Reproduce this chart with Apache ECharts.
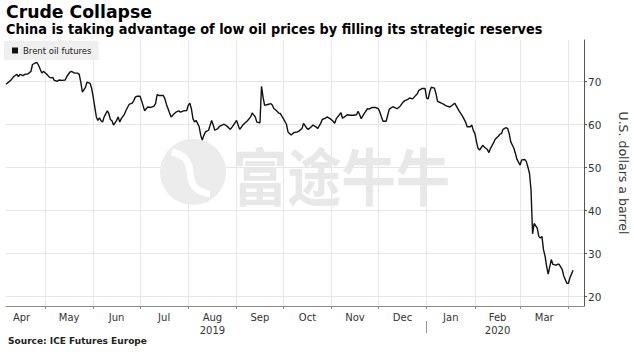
<!DOCTYPE html>
<html><head><meta charset="utf-8">
<script src="https://cdn.jsdelivr.net/npm/echarts@6/dist/echarts.min.js"></script>
<style>html,body{margin:0;padding:0;background:#fff}#c{width:634px;height:352px}</style>
</head><body><div id="c"></div>
<script>
// ---------- DATA ----------
const seriesName = 'Brent oil futures';
const dates = [
'2019-04-06','2019-04-09','2019-04-11','2019-04-13','2019-04-14','2019-04-15','2019-04-17','2019-04-18','2019-04-20','2019-04-22','2019-04-23','2019-04-25','2019-04-26','2019-04-27','2019-04-29','2019-04-30',
'2019-05-02','2019-05-04','2019-05-05','2019-05-06','2019-05-07','2019-05-09','2019-05-10','2019-05-12','2019-05-14','2019-05-15','2019-05-17','2019-05-18','2019-05-20','2019-05-22','2019-05-23','2019-05-24','2019-05-25','2019-05-27','2019-05-28','2019-05-30','2019-05-31',
'2019-06-01','2019-06-02','2019-06-03','2019-06-04','2019-06-05','2019-06-06','2019-06-07','2019-06-08','2019-06-10','2019-06-11','2019-06-12','2019-06-13','2019-06-14','2019-06-16','2019-06-17','2019-06-18','2019-06-19','2019-06-21','2019-06-22','2019-06-24','2019-06-26','2019-06-27','2019-06-28','2019-06-29',
'2019-07-01','2019-07-02','2019-07-04','2019-07-05','2019-07-06','2019-07-08','2019-07-10','2019-07-11','2019-07-12','2019-07-13','2019-07-16','2019-07-17','2019-07-18','2019-07-20','2019-07-21','2019-07-22','2019-07-24','2019-07-26','2019-07-27','2019-07-29','2019-07-31',
'2019-08-01','2019-08-02','2019-08-03','2019-08-04','2019-08-05','2019-08-06','2019-08-08','2019-08-09','2019-08-10','2019-08-11','2019-08-12','2019-08-14','2019-08-16','2019-08-17','2019-08-18','2019-08-20','2019-08-21','2019-08-24','2019-08-26','2019-08-28','2019-08-30',
'2019-09-01','2019-09-02','2019-09-03','2019-09-05','2019-09-08','2019-09-10','2019-09-11','2019-09-13','2019-09-14','2019-09-16','2019-09-17','2019-09-18','2019-09-19','2019-09-21','2019-09-23','2019-09-24','2019-09-25','2019-09-26','2019-09-28','2019-09-29',
'2019-10-01','2019-10-03','2019-10-04','2019-10-06','2019-10-08','2019-10-10','2019-10-11','2019-10-13','2019-10-14','2019-10-16','2019-10-17','2019-10-19','2019-10-20','2019-10-22','2019-10-23','2019-10-25','2019-10-26','2019-10-28','2019-10-29','2019-10-31',
'2019-11-02','2019-11-03','2019-11-04','2019-11-06','2019-11-07','2019-11-08','2019-11-10','2019-11-11','2019-11-13','2019-11-15','2019-11-17','2019-11-18','2019-11-19','2019-11-20','2019-11-22','2019-11-24','2019-11-25','2019-11-27','2019-11-29',
'2019-12-01','2019-12-02','2019-12-03','2019-12-04','2019-12-06','2019-12-07','2019-12-08','2019-12-10','2019-12-11','2019-12-13','2019-12-15','2019-12-17','2019-12-18','2019-12-20','2019-12-21','2019-12-23','2019-12-24','2019-12-26','2019-12-27','2019-12-29','2019-12-31',
'2020-01-01','2020-01-02','2020-01-03','2020-01-04','2020-01-06','2020-01-07','2020-01-08','2020-01-10','2020-01-12','2020-01-13','2020-01-14','2020-01-16','2020-01-19','2020-01-22','2020-01-24','2020-01-26','2020-01-27','2020-01-29','2020-01-30','2020-01-31',
'2020-02-01','2020-02-02','2020-02-03','2020-02-04','2020-02-06','2020-02-07','2020-02-09','2020-02-10','2020-02-11','2020-02-13','2020-02-14','2020-02-16','2020-02-17','2020-02-18','2020-02-19','2020-02-21','2020-02-22','2020-02-23','2020-02-24','2020-02-26','2020-02-27','2020-02-28',
'2020-03-01','2020-03-02','2020-03-04','2020-03-05','2020-03-06','2020-03-07','2020-03-08','2020-03-09','2020-03-10','2020-03-12','2020-03-13','2020-03-14','2020-03-15','2020-03-16','2020-03-17','2020-03-18','2020-03-19','2020-03-21','2020-03-22','2020-03-24','2020-03-25','2020-03-26','2020-03-28','2020-03-29','2020-03-31','2020-04-01','2020-04-02','2020-04-04'
];
const prices = [
69.4,70.3,71.2,71.7,71.2,71.7,71.4,71.7,71.8,72.4,74.0,74.4,74.4,73.7,72.0,72.4,
71.8,71.0,70.9,71.0,70.3,70.1,70.4,70.3,70.4,71.2,72.2,72.4,72.0,72.0,71.7,69.9,67.6,68.7,69.9,69.6,68.4,
66.4,64.1,61.8,61.0,61.6,60.9,60.6,61.8,63.2,62.6,61.2,60.9,59.9,61.0,61.8,60.6,61.4,62.4,63.3,64.7,65.0,65.6,66.4,66.6,
66.6,65.6,63.2,63.7,64.1,64.0,64.3,64.9,67.0,66.8,66.8,66.0,64.7,62.7,61.8,62.2,62.9,63.2,62.9,63.2,63.3,
64.5,65.0,63.7,61.4,60.6,61.0,59.5,57.5,56.4,57.5,58.3,58.7,61.0,59.9,58.7,59.1,59.6,60.1,59.6,58.9,59.9,
61.0,59.9,58.9,59.9,60.9,61.8,62.7,61.8,60.6,60.4,68.9,66.4,64.5,64.7,64.9,64.5,63.7,63.5,62.7,62.6,
61.4,60.1,58.3,57.6,58.2,58.3,58.5,59.1,60.3,59.2,58.9,59.5,59.9,59.5,59.1,60.3,61.2,61.5,61.8,61.4,
60.8,60.3,61.4,62.3,62.8,61.5,62.0,62.3,62.2,62.2,62.3,63.1,62.3,61.4,62.6,63.7,63.6,64.0,64.0,
63.7,62.9,61.8,60.8,60.8,62.2,63.6,64.1,64.1,63.7,64.3,65.3,65.6,65.9,66.2,66.0,66.4,67.2,68.0,68.4,68.4,
66.2,66.0,67.7,68.7,68.5,67.2,65.4,65.1,64.7,64.5,64.3,64.1,65.0,63.1,62.0,60.6,59.5,59.5,59.9,58.6,
57.9,56.0,54.5,54.1,55.2,54.8,54.2,53.5,54.5,55.8,56.6,57.3,57.8,57.9,58.9,59.3,59.1,57.9,56.0,54.5,53.3,51.9,
50.6,51.8,51.9,51.4,50.1,48.7,44.8,34.6,37.0,35.9,34.0,33.6,34.0,30.9,29.4,27.1,25.2,28.6,27.5,27.3,27.5,27.5,26.3,24.8,23.1,23.1,24.4,26.1
];
const monthStarts = ['2019-04-01','2019-05-01','2019-06-01','2019-07-01','2019-08-01','2019-09-01','2019-10-01','2019-11-01','2019-12-01','2020-01-01','2020-02-01','2020-03-01','2020-04-01'];
const monthLabels = ['Apr','May','Jun','Jul','Aug','Sep','Oct','Nov','Dec','Jan','Feb','Mar'];
const yearLabels  = ['','','','','2019','','','','','','2020',''];
const yearBoundary = '2020-01-01';
const yTicks = [20,30,40,50,60,70];
const axisRange = {xMin:'2019-04-06', xMax:'2020-04-11', yMin:17.8, yMax:79.7};
const titleText = 'Crude Collapse';
const subtitleText = 'China is taking advantage of low oil prices by filling its strategic reserves';
const sourceText = 'Source: ICE Futures Europe';
const yAxisName = 'U.S. dollars a barrel';
const watermarkText = '富途牛牛';

// ---------- helpers ----------
function ts(s){ const p = s.split('-').map(Number); return Date.UTC(p[0], p[1]-1, p[2]); }
const xMin = ts(axisRange.xMin), xMax = ts(axisRange.xMax);
const tickVals = monthStarts.map(ts).filter(v => v >= xMin && v <= xMax);
const labelVals = monthLabels.map((m,i) => (ts(monthStarts[i]) + ts(monthStarts[i+1])) / 2);
const ctx = document.createElement('canvas').getContext('2d');
function fit(text, font, target){ ctx.font = font; return target / ctx.measureText(text).width; }

const F = '"DejaVu Sans", Verdana, sans-serif';
const titleFont = 'bold 18px ' + F;
const subFont = 'bold 13.5px ' + F;
const srcFont = 'bold 9.5px ' + F;
const wmFont = 'bold 62px "Noto Sans CJK SC"';

const chart = echarts.init(document.getElementById('c'), null, {renderer:'svg'});
chart.setOption({
  animation:false,
  backgroundColor:'#fff',
  grid:{left:6, right:50, top:40, bottom:46, containLabel:false, outerBoundsMode:'none'},
  legend:{
    data:[seriesName], left:4, top:41, icon:'rect', itemWidth:6, itemHeight:6,
    backgroundColor:'#efefef', padding:[5,7,5,8], selectedMode:false,
    textStyle:{fontFamily:F, fontSize:8.5, color:'#222'}
  },
  xAxis:[{
    type:'value', min:xMin, max:xMax, scale:true,
    axisLine:{show:true, onZero:false, lineStyle:{color:'#8c8c8c', width:1}},
    axisTick:{show:true, customValues:tickVals, length:3, lineStyle:{color:'#8c8c8c'}},
    splitLine:{show:true, lineStyle:{color:'#e6e6e6', width:1}},
    axisLabel:{
      customValues:labelVals, margin:5, fontFamily:F, fontSize:10, color:'#333', lineHeight:13,
      formatter:function(v){
        let best=0, bd=Infinity;
        labelVals.forEach((lv,i)=>{const d=Math.abs(lv-v); if(d<bd){bd=d;best=i;}});
        return monthLabels[best] + (yearLabels[best] ? '\n' + yearLabels[best] : '');
      }
    }
  },{
    type:'value', min:xMin, max:xMax, scale:true, position:'bottom', offset:15,
    axisLine:{show:false}, splitLine:{show:false}, axisLabel:{show:false},
    axisTick:{show:true, customValues:[ts(yearBoundary)], length:12, lineStyle:{color:'#9a9a9a'}}
  }],
  yAxis:{
    type:'value', position:'right', min:axisRange.yMin, max:axisRange.yMax,
    axisLine:{show:true, lineStyle:{color:'#555', width:1}},
    axisTick:{show:true, customValues:yTicks, length:3, lineStyle:{color:'#555'}},
    splitLine:{show:true, lineStyle:{color:'#e6e6e6', width:1}},
    axisLabel:{customValues:yTicks, margin:4, fontFamily:F, fontSize:10.5, color:'#333'},
    name:yAxisName, nameLocation:'middle', nameRotate:-90, nameGap:33,
    nameTextStyle:{fontFamily:F, fontSize:12.5, color:'#333'}
  },
  graphic:[
    {type:'text', x:6, y:11.5, scaleX:fit(titleText, titleFont, 146), z:10,
      style:{text:titleText, font:titleFont, fill:'#000', verticalAlign:'middle'}},
    {type:'text', x:6, y:29, scaleX:fit(subtitleText, subFont, 537), z:10,
      style:{text:subtitleText, font:subFont, fill:'#000', verticalAlign:'middle'}},
    {type:'text', x:8, y:340.5, scaleX:fit(sourceText, srcFont, 139), z:10,
      style:{text:sourceText, font:srcFont, fill:'#222', verticalAlign:'middle'}},
    {type:'circle', shape:{cx:193, cy:172, r:33}, z:1, silent:true, style:{fill:'#ececec'}},
    {type:'bezierCurve', z:1, silent:true,
      shape:{x1:172, y1:152, cpx1:205, cpy1:160, cpx2:175, cpy2:188, x2:210, y2:194},
      style:{stroke:'#ffffff', lineWidth:7, fill:null}},
    {type:'text', x:233, y:174, scaleX:fit(watermarkText, wmFont, 217), z:1, silent:true,
      style:{text:watermarkText, font:wmFont, fill:'#e8e8e8', verticalAlign:'middle'}}
  ],
  series:[{
    name:seriesName, type:'line', xAxisIndex:0, showSymbol:false, symbol:'none', z:5,
    data:dates.map((d,i)=>[ts(d), prices[i]]),
    lineStyle:{color:'#111', width:1.4}, itemStyle:{color:'#111'}
  }]
});
</script></body></html>
